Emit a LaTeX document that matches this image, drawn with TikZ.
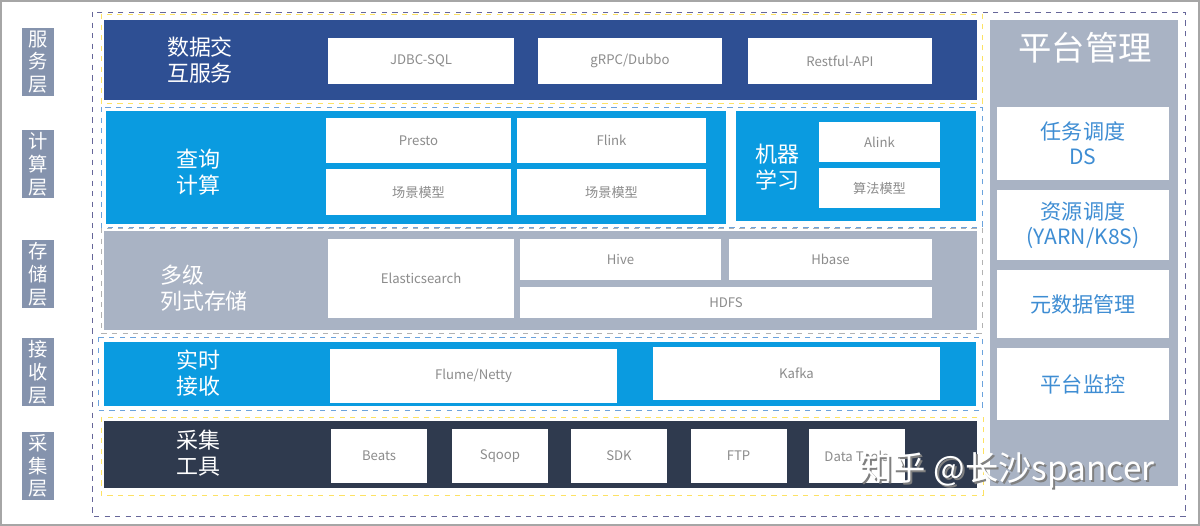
\documentclass[tikz,border=0pt]{standalone}
\usepackage{fontspec}
\setmainfont{Noto Sans CJK SC}
\begin{document}
\begin{tikzpicture}[x=0.02cm,y=-0.02cm,
  wbox/.style={fill=white,draw=none,text=black!45,font=\fontsize{7.5}{9}\selectfont},
  ttl/.style={text=white,align=left,font=\fontsize{12.5}{15}\selectfont},
  side/.style={fill=white,text=cyan!60!blue!80,align=center,font=\fontsize{12}{14}\selectfont},
  lbl/.style={fill=lgray,text=white,align=center,font=\fontsize{11}{13}\selectfont,minimum width=32*0.02cm,minimum height=68*0.02cm,inner sep=0pt},
  dsh/.style={dashed,line width=0.5pt}]
\definecolor{dblue}{HTML}{2E4F93}
\definecolor{bblue}{HTML}{0A9BE0}
\definecolor{sgray}{HTML}{A9B3C4}
\definecolor{lgray}{HTML}{8593AD}
\definecolor{dark}{HTML}{2F3A4E}
\path[use as bounding box] (0,0) rectangle (1200,526);
\draw[gray!70,line width=0.8pt] (1,1) rectangle (1199,525);
\draw[dsh,gray!80!blue] (92,12) rectangle (1185,516);
% labels
\node[lbl] (l1) at (38,62) {服\\务\\层};
\node[lbl] (l2) at (38,164) {计\\算\\层};
\node[lbl] (l3) at (38,274) {存\\储\\层};
\node[lbl] (l4) at (38,372) {接\\收\\层};
\node[lbl] (l5) at (38,466) {采\\集\\层};
% service
\fill[dblue] (104,20) rectangle (977,100);
\draw[dsh,yellow!70!orange!60] (101,14) rectangle (982,103);
\node[ttl] (t1) at (200,60) {数据交\\互服务};
\node[wbox,minimum width=186*0.02cm,minimum height=46*0.02cm] (s1) at (421,61) {JDBC-SQL};
\node[wbox,minimum width=184*0.02cm,minimum height=46*0.02cm] (s2) at (630,61) {gRPC/Dubbo};
\node[wbox,minimum width=184*0.02cm,minimum height=46*0.02cm] (s3) at (840,61) {Restful-API};
% compute
\draw[dsh,cyan!60!blue!60] (101,107) rectangle (982,227);
\fill[bblue] (106,111) rectangle (726,224);
\fill[bblue] (736,111) rectangle (976,221);
\node[ttl] (t2) at (198,172) {查询\\计算};
\node[ttl] (t2b) at (777,167) {机器\\学习};
\node[wbox,minimum width=185*0.02cm,minimum height=45*0.02cm] (c1) at (418.5,140.5) {Presto};
\node[wbox,minimum width=189*0.02cm,minimum height=45*0.02cm] (c2) at (611.5,140.5) {Flink};
\node[wbox,minimum width=185*0.02cm,minimum height=46*0.02cm] (c3) at (418.5,192) {场景模型};
\node[wbox,minimum width=189*0.02cm,minimum height=46*0.02cm] (c4) at (611.5,192) {场景模型};
\node[wbox,minimum width=121*0.02cm,minimum height=40*0.02cm] (c5) at (879.5,142) {Alink};
\node[wbox,minimum width=121*0.02cm,minimum height=40*0.02cm] (c6) at (879.5,188) {算法模型};
% storage
\fill[sgray] (104,231) rectangle (977,330);
\draw[dsh,gray!60] (101,228) rectangle (982,333);
\node[ttl] (t3) at (204,288) {多级\\列式存储};
\node[wbox,minimum width=186*0.02cm,minimum height=79*0.02cm] (e1) at (421,278.5) {Elasticsearch};
\node[wbox,minimum width=201*0.02cm,minimum height=41*0.02cm] (e2) at (620.5,259.5) {Hive};
\node[wbox,minimum width=203*0.02cm,minimum height=41*0.02cm] (e3) at (830.5,259.5) {Hbase};
\node[wbox,minimum width=412*0.02cm,minimum height=31*0.02cm] (e4) at (726,302.5) {HDFS};
% receive
\draw[dsh,cyan!60!blue!60] (98,337) rectangle (982,410);
\fill[bblue] (104,342) rectangle (976,406);
\node[ttl] (t4) at (198,373) {实时\\接收};
\node[wbox,minimum width=287*0.02cm,minimum height=54*0.02cm] (r1) at (473.5,376) {Flume/Netty};
\node[wbox,minimum width=287*0.02cm,minimum height=53*0.02cm] (r2) at (796.5,373.5) {Kafka};
% collect
\fill[dark] (104,421) rectangle (977,488);
\draw[dsh,yellow!70!orange!60] (101,417) rectangle (983,495);
\node[ttl] (t5) at (198,453) {采集\\工具};
\foreach \x/\t/\n in {379/Beats/b1,500/Sqoop/b2,619/SDK/b3,738.5/FTP/b4,856.5/Data Tools/b5}
  \node[wbox,minimum width=96*0.02cm,minimum height=54*0.02cm] (\n) at (\x,456) {\t};
% platform
\fill[sgray] (990,20) rectangle (1178,486);
\node[text=white,font=\fontsize{19}{21}\selectfont] (p0) at (1085,48) {平台管理};
\node[side,minimum width=172*0.02cm,minimum height=73*0.02cm] (p1) at (1083,143.5) {任务调度\\DS};
\node[side,minimum width=172*0.02cm,minimum height=70*0.02cm] (p2) at (1083,225) {资源调度\\(YARN/K8S)};
\node[side,minimum width=172*0.02cm,minimum height=68*0.02cm] (p3) at (1083,304) {元数据管理};
\node[side,minimum width=172*0.02cm,minimum height=72*0.02cm] (p4) at (1083,384) {平台监控};
% watermark
\node[text=black!50,font=\fontsize{19}{21}\selectfont] at (1009,472) {知乎 @长沙spancer};
\node[text=white,font=\fontsize{19}{21}\selectfont] (wm) at (1007,470) {知乎 @长沙spancer};
\end{tikzpicture}
\end{document}
